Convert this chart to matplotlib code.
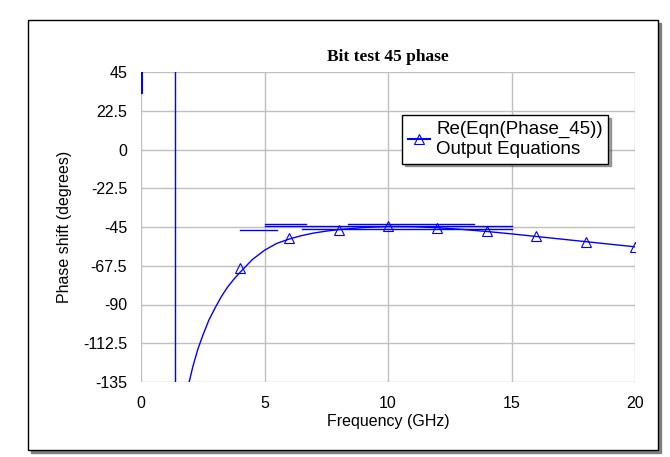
import numpy as np
import matplotlib.pyplot as plt
from matplotlib.patches import Rectangle

plt.rcParams['font.family'] = ['Liberation Sans', 'DejaVu Sans']

# curve samples (GHz, degrees)
freq = [1.95, 2.1, 2.3, 2.5, 2.75, 3.0, 3.25, 3.5, 3.75, 4.0, 4.5, 5.0, 5.5, 6.0, 6.5, 7.0, 7.5, 8.0, 9.0, 10.0, 11.0, 12.0, 13.0, 14.0, 15.0, 16.0, 17.0, 18.0, 19.0, 20.0]
phase = [-135, -126, -116, -108, -99, -92, -85.5, -80, -75.5, -71.5, -64, -58.5, -54.5, -52, -50, -48.5, -47.4, -46.5, -45.3, -44.7, -44.8, -45.4, -46.4, -47.6, -49, -50.5, -52, -53.5, -55, -56.5]
marker_f = [4, 6, 8, 10, 12, 14, 16, 18, 20]
marker_p = [-69, -51.5, -46.5, -44.7, -45.4, -47.6, -50.5, -53.5, -56.5]
# stray horizontal segments (start, end, level)
segments = [(5.0, 6.7, -43.0), (5.0, 15.0, -44.4), (6.5, 15.0, -46.2), (8.4, 13.5, -43.0), (4.0, 5.5, -47.0)]

fig = plt.figure(figsize=(6.7, 4.57), dpi=100)
fig.patches.append(Rectangle((31 / 670, 1 - 453 / 457), 630 / 670, 430 / 457,
                             transform=fig.transFigure, color='#808080', zorder=0))
fig.patches.append(Rectangle((28 / 670, 1 - 450 / 457), 630 / 670, 430 / 457,
                             transform=fig.transFigure, facecolor='white', edgecolor='black', lw=1, zorder=1))

ax = fig.add_axes([141 / 670, 1 - 382 / 457, 494 / 670, 310 / 457])
ax.set_zorder(2)
ax.plot(freq, phase, color='blue', lw=1)
ax.plot(marker_f, marker_p, ls='none', marker='^', ms=7, mfc='none', mec='blue', mew=0.8,
        label='Re(Eqn(Phase_45))\nOutput Equations')
for s, e, v in segments:
    ax.plot([s, e], [v, v], color='blue', lw=1)
ax.plot([1.37, 1.37], [-135, 45], color='blue', lw=1)
ax.plot([0.05, 0.05], [45, 33], color='blue', lw=1.5)

ax.set_xlim(0, 20)
ax.set_ylim(-135, 45)
ax.set_xticks([0, 5, 10, 15, 20])
ax.set_yticks([45, 22.5, 0, -22.5, -45, -67.5, -90, -112.5, -135])
ax.set_yticklabels(['45', '22.5', '0', '-22.5', '-45', '-67.5', '-90', '-112.5', '-135'])
ax.grid(True, color='#c0c0c0', lw=1)
for sp in ax.spines.values():
    sp.set_visible(False)
ax.tick_params(length=0, labelsize=11.5, pad=10)
ax.set_xlabel('Frequency (GHz)', fontsize=11.5, labelpad=2)
ax.set_ylabel('Phase shift (degrees)', fontsize=11.5, labelpad=8)
ax.set_title('Bit test 45 phase', fontsize=12.5, fontweight='bold', family='Liberation Serif', pad=8)

leg = ax.legend(loc='upper left', bbox_to_anchor=(0.51, 0.89), fontsize=13.5, handlelength=1.2,
                handletextpad=0.3, fancybox=False, shadow=True, framealpha=1, borderpad=0.3)
leg.get_frame().set_edgecolor('black')
for h in leg.legend_handles:
    h.set_linestyle('-')
    h.set_color('blue')
    h.set_markerfacecolor('none')

fig.savefig('out.png', dpi=100)
